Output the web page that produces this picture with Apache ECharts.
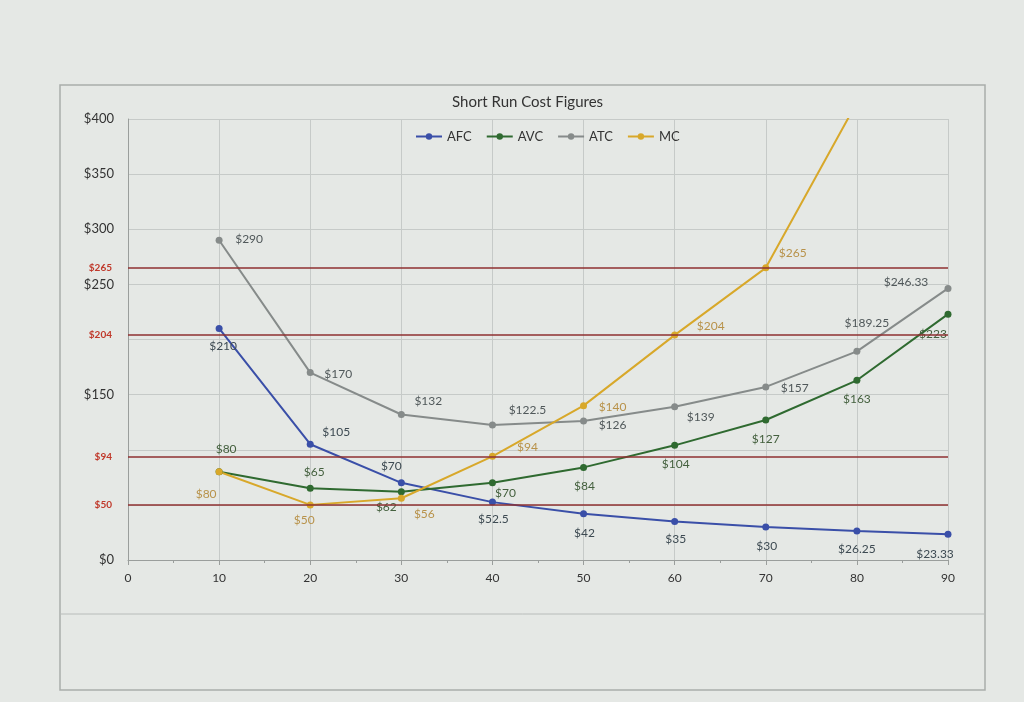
<!DOCTYPE html>
<html><head><meta charset="utf-8">
<script src="https://cdn.jsdelivr.net/npm/echarts@6/dist/echarts.min.js"></script>
<style>html,body{margin:0;padding:0;background:#e5e8e5;}#c{width:1024px;height:702px;}</style>
</head><body><div id="c"></div>
<script>
var quantities = [10, 20, 30, 40, 50, 60, 70, 80, 90];
var afc = [210, 105, 70, 52.5, 42, 35, 30, 26.25, 23.33];
var avc = [80, 65, 62, 70, 84, 104, 127, 163, 223];
var atc = [290, 170, 132, 122.5, 126, 139, 157, 189.25, 246.33];
var mc  = [80, 50, 56, 94, 140, 204, 265, 415, 703];
var refLevels = [265, 204, 94, 50];
var hiddenTicks = [50, 100, 200];

// label offsets (style, not data)
var afcOff = [[4,18],[26,-12],[-10,-17],[1,17],[1,19],[1,18],[1,19],[0,18],[-13,20]];
var atcOff = [[30,-1],[28,2],[27,-13],[35,-15],[29,4],[26,10],[29,1],[10,-28],[-42,-6]];
var avcOff = [[7,-23],[4,-16],[-15,15],[13,10],[1,19],[1,19],[0,19],[0,19],[-15,20]];
var mcOff  = [[-13,22],[-6,15],[23,16],[35,-9],[29,1],[36,-9],[27,-15],null,null];

function build(vals, offs) {
  return vals.map(function (v, i) {
    var item = { value: [quantities[i], v] };
    if (offs[i]) item.label = { show: true, position: 'inside', offset: offs[i] };
    else item.label = { show: false };
    return item;
  });
}
function fmt(p) { return '$' + p.value[1]; }

function series(name, vals, offs, color, labelColor, extra) {
  var s = {
    name: name, type: 'line', data: build(vals, offs), clip: true,
    symbol: 'circle', symbolSize: 7,
    itemStyle: { color: color },
    lineStyle: { color: color, width: 2 },
    label: { show: true, formatter: fmt, color: labelColor, fontSize: 12, fontFamily: 'Lato' },
    z: 3
  };
  if (extra) for (var k in extra) s[k] = extra[k];
  return s;
}

var chart = echarts.init(document.getElementById('c'));
var option = {
  backgroundColor: '#e5e8e5',
  animation: false,
  title: {
    text: 'Short Run Cost Figures', left: 447, top: 90,
    textStyle: { fontFamily: 'Lato', fontSize: 15, fontWeight: 'normal', color: '#333' }
  },
  legend: {
    left: 410, top: 125, itemWidth: 26, itemHeight: 8, itemGap: 14,
    textStyle: { fontFamily: 'Lato', fontSize: 13, color: '#333' },
    data: ['AFC', 'AVC', 'ATC', 'MC']
  },
  graphic: [
    { type: 'rect', shape: { x: 60, y: 85, width: 925, height: 605 }, style: { fill: 'none', stroke: '#a9adab', lineWidth: 1.5 }, z: -1 },
    { type: 'line', shape: { x1: 60, y1: 614, x2: 985, y2: 614 }, style: { stroke: '#b8bcba', lineWidth: 1 }, z: -1 }
  ],
  grid: { left: 128, right: 76, top: 119, bottom: 142 },
  xAxis: {
    type: 'value', min: 0, max: 90, interval: 10,
    axisLine: { show: true, lineStyle: { color: '#9a9e9c' } },
    axisTick: { show: true, lineStyle: { color: '#9a9e9c' } },
    minorTick: { show: true, splitNumber: 2, length: 3, lineStyle: { color: '#9a9e9c' } },
    axisLabel: { color: '#333', fontSize: 12, fontFamily: 'Lato', margin: 12 },
    splitLine: { show: true, lineStyle: { color: '#c6cac8' } }
  },
  yAxis: {
    type: 'value', min: 0, max: 400, interval: 50,
    axisLine: { show: true, lineStyle: { color: '#9a9e9c' } },
    axisTick: { show: false },
    axisLabel: {
      color: '#333', fontSize: 13, fontFamily: 'Lato', margin: 14,
      formatter: function (v) { return hiddenTicks.indexOf(v) >= 0 ? '' : '$' + v; }
    },
    splitLine: { show: true, lineStyle: { color: '#c6cac8' } }
  },
  series: [
    series('AFC', afc, afcOff, '#3a4fa8', '#3d4a52'),
    series('AVC', avc, avcOff, '#2f6a30', '#44603e'),
    series('ATC', atc, atcOff, '#868b8a', '#50585a'),
    series('MC', mc, mcOff, '#d8a82a', '#b8924a', {
      markLine: {
        silent: true, symbol: 'none',
        lineStyle: { color: '#8e3030', width: 1.5, type: 'solid' },
        label: { show: true, position: 'start', distance: 16, color: '#c0392b', fontSize: 10, fontWeight: 'bold', fontFamily: 'Lato',
                 formatter: function (p) { return '$' + p.value; } },
        data: refLevels.map(function (v) { return { yAxis: v }; })
      }
    })
  ]
};
chart.setOption(option);
</script>
</body></html>
